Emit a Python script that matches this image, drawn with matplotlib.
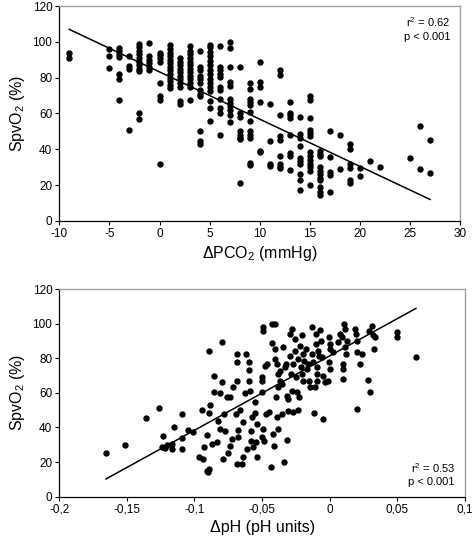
import matplotlib
matplotlib.use("Agg")
import matplotlib.pyplot as plt
import numpy as np

plt.rcParams["font.family"] = ["Liberation Sans", "DejaVu Sans"]
plt.rcParams["mathtext.default"] = "regular"
plt.rcParams["axes.unicode_minus"] = False

# top panel: delta PCO2 (mmHg) columns -> SpvO2 (%)
pco2_cols = {
    -9: [94, 91],
    -5: [96, 92, 85.5],
    -4: [96.5, 95, 93, 91.5, 82, 79.5, 67.5],
    -3: [92, 86.5, 85, 50.5],
    -2: [99, 97, 95, 93, 91, 89, 87, 85, 83.5, 60, 57],
    -1: [99.5, 92, 90, 88, 86, 84.5],
    0: [94, 92.5, 91, 89, 77, 69.5, 67.5, 32],
    1: [98, 96, 94, 92, 90, 88, 86, 84, 82, 80, 78, 76, 74],
    2: [91, 89, 87, 85, 83, 81, 79, 77, 75, 67, 65.5],
    3: [97.5, 95, 93, 91, 89, 87, 85, 83, 81, 79, 77, 75, 67.5],
    4: [95, 86, 84, 81, 79, 77, 73, 71, 69.5, 50, 44.5, 43],
    5: [98.5, 97, 94.5, 92, 89.5, 87, 84.5, 82, 79.5, 77, 75, 72.5, 67, 63, 56],
    6: [97.5, 86, 84, 82, 80.5, 75, 73, 68, 63, 60, 48],
    7: [100, 96.5, 86, 77.5, 75.5, 68, 66, 64, 62, 59, 55],
    8: [86, 60, 58, 50, 48, 46.5, 45.5, 21],
    9: [77, 73.5, 68, 66.5, 64.5, 61, 56, 50, 48, 46, 32.5, 31],
    10: [89, 77.5, 75, 66.5, 39, 38.5],
    11: [65, 44.5, 32, 30.5],
    12: [84, 81.5, 59, 47.5, 45, 36, 32, 30, 29.5],
    13: [66.5, 60.5, 59, 57.5, 48, 38, 36.5, 28.5],
    14: [58, 48.5, 46.5, 42, 35, 33.5, 32, 26, 23, 17],
    15: [69.5, 67.5, 57.5, 51, 49, 47.5, 38.5, 36.5, 34, 32, 30, 28, 20],
    16: [39, 37.5, 36, 30, 28, 26, 24, 23, 19, 16, 14.5],
    17: [50, 35.5, 27.5, 25.5, 16],
    18: [48, 29],
    19: [43, 40, 32, 29.5, 23, 21],
    20: [29.5, 25],
    21: [33.5],
    22: [30],
    25: [35],
    26: [53, 29],
    27: [45, 27],
}
pco2 = [k for k, v in pco2_cols.items() for _ in v]
spvo2_top = [y for v in pco2_cols.values() for y in v]
line_top = (-2.64, 83.2)  # slope, intercept

# bottom panel: delta pH (pH units) -> SpvO2 (%)
dph = [-0.1655, -0.1514, -0.136, -0.1265, -0.1236, -0.124, -0.122, -0.120,
       -0.117, -0.117, -0.115, -0.1095, -0.1095, -0.109, -0.1046, -0.101,
       -0.0967, -0.0948, -0.0935, -0.093, -0.091, -0.0905, -0.090, -0.0895,
       -0.0896, -0.089, -0.0886, -0.087, -0.0856, -0.0856, -0.0836, -0.0824,
       -0.081, -0.080, -0.080, -0.081, -0.0787, -0.078, -0.0775, -0.0763,
       -0.0738, -0.0755, -0.0738, -0.0726, -0.0713, -0.0696, -0.0689, -0.0689,
       -0.0684, -0.0684, -0.0676, -0.0676, -0.066, -0.0652, -0.0644, -0.064,
       -0.063, -0.0622, -0.061, -0.0597, -0.0595, -0.0595, -0.059, -0.0585,
       -0.0585, -0.0578, -0.0565, -0.0553, -0.0553, -0.0546, -0.054, -0.0536,
       -0.0504, -0.050, -0.050, -0.050, -0.0496, -0.0496, -0.049, -0.0484,
       -0.048, -0.0474, -0.0467, -0.0447, -0.0437, -0.043, -0.0425, -0.0418,
       -0.041, -0.0405, -0.0405, -0.0403, -0.040, -0.0393, -0.0388, -0.038,
       -0.038, -0.038, -0.0368, -0.0368, -0.0356, -0.0356, -0.0344, -0.034,
       -0.0332, -0.032, -0.0314, -0.0314, -0.0306, -0.0306, -0.0294, -0.0294,
       -0.029, -0.0282, -0.028, -0.0275, -0.027, -0.026, -0.0257, -0.0252,
       -0.0245, -0.0238, -0.0233, -0.0225, -0.022, -0.0213, -0.0208, -0.0203,
       -0.020, -0.0196, -0.0188, -0.0176, -0.017, -0.0159, -0.015, -0.0146,
       -0.0134, -0.0129, -0.0122, -0.0114, -0.011, -0.0102, -0.0102, -0.0097,
       -0.0097, -0.0097, -0.0085, -0.008, -0.0072, -0.0068, -0.006, -0.0053,
       -0.0048, -0.0035, -0.001, -0.0003, -0.0003, 0.0001, 0.0001, 0.0001,
       0.0026, 0.0063, 0.0075, 0.0088, 0.010, 0.010, 0.010, 0.0105, 0.0112,
       0.0112, 0.0117, 0.0125, 0.0186, 0.0194, 0.0199, 0.0199, 0.0204, 0.0223,
       0.0236, 0.0285, 0.0292, 0.0297, 0.031, 0.0317, 0.0327, 0.0334, 0.0494,
       0.0494, 0.0637]
spvo2_bot = [25.0, 30.1, 45.5, 51, 35.3, 29, 28, 30,
             30.4, 27.5, 40, 47.8, 33.7, 27.5, 38.7, 37.6,
             23.1, 50, 21.6, 28.5, 35.8, 15, 14, 16,
             84.4, 48.4, 53, 30.4, 60.7, 70, 31.4, 44,
             39, 89.2, 66, 60, 21.8, 47.8, 38, 57.8,
             57.8, 25.2, 29.5, 33.3, 63.2, 47.8, 67, 18.9,
             82.3, 77.7, 38.5, 34.3, 50, 18.9, 43.4, 23.1,
             60, 82.5, 27.5, 77.7, 73.2, 67, 61.3, 38.2,
             32.4, 45.9, 28.5, 55, 48.2, 31.4, 23.1, 42,
             34.3, 69, 67, 60.3, 97.9, 96, 39, 32.4,
             75.7, 47.8, 76.7, 48.7, 17, 88.8, 99.8, 36.2,
             29.5, 100, 85.4, 79.6, 57.4, 45.9, 76.7, 71,
             63.2, 39, 72.8, 67, 47.8, 65, 86.7, 20.2,
             74.8, 76.7, 32.8, 58.4, 56.5, 49.7, 94, 81.5,
             71, 97, 61.3, 48.7, 76.7, 91, 84.4, 69,
             60.3, 79.6, 50, 57.4, 87.3, 74.8, 93.4, 71,
             67, 82.5, 78.6, 85.4, 73.8, 76.7, 67, 63.2,
             98.3, 82.5, 77.7, 48.2, 63.2, 94, 88.2, 74.8,
             71, 67, 84.4, 81.5, 96.6, 90.2, 80.5, 44.9,
             70, 66, 67, 77.7, 92, 88.2, 85.4, 73.8,
             83.4, 89.2, 94, 92, 68, 76.7, 73.8, 99.8, 97,
             86.3, 82.5, 90, 97, 94, 50.7, 83.4, 90, 76.7,
             82.5, 67.4, 96, 60.3, 98.8, 93.6, 85.4, 92.5, 95,
             92.5, 80.5]
line_bot = (430.0, 81.4)

ph_ticks = [-0.2, -0.15, -0.1, -0.05, 0, 0.05, 0.1]
ph_labels = ["-0,2", "-0,15", "-0,1", "-0,05", "0", "0,05", "0,1"]


def style(ax):
    for s in ["top", "right"]:
        ax.spines[s].set_color("#a0a0a0")
        ax.spines[s].set_linewidth(1.0)
    for s in ["left", "bottom"]:
        ax.spines[s].set_linewidth(0.9)
    ax.tick_params(direction="out", length=3, width=0.8, labelsize=8.5, pad=2)
    ax.set_ylim(0, 120)
    ax.set_yticks(range(0, 121, 20))
    ax.set_ylabel("SpvO$_2$ (%)", fontsize=11.5, labelpad=4)


fig = plt.figure(figsize=(4.74, 5.48), dpi=100)

ax1 = fig.add_axes([0.125, 0.597, 0.846, 0.392])
ax1.scatter(pco2, spvo2_top, s=21, color="black", linewidths=0)
xl = np.array([min(pco2), max(pco2)])
ax1.plot(xl, line_top[0] * xl + line_top[1], color="black", lw=1.1)
ax1.set_xlim(-10, 30)
ax1.set_xticks(range(-10, 31, 5))
ax1.set_xlabel("ΔPCO$_2$ (mmHg)", fontsize=11.5, labelpad=3)
ax1.text(0.975, 0.955, "r$^2$ = 0.62\np < 0.001", transform=ax1.transAxes,
         ha="right", va="top", fontsize=8, linespacing=1.3)
style(ax1)

ax2 = fig.add_axes([0.125, 0.0936, 0.856, 0.379])
ax2.scatter(dph, spvo2_bot, s=21, color="black", linewidths=0)
xl = np.array([min(dph), max(dph)])
ax2.plot(xl, line_bot[0] * xl + line_bot[1], color="black", lw=1.1)
ax2.set_xlim(-0.2, 0.1)
ax2.set_xticks(ph_ticks)
ax2.set_xticklabels(ph_labels)
ax2.set_xlabel("ΔpH (pH units)", fontsize=11.5, labelpad=3)
ax2.text(0.975, 0.045, "r$^2$ = 0.53\np < 0.001", transform=ax2.transAxes,
         ha="right", va="bottom", fontsize=8, linespacing=1.3)
style(ax2)

fig.savefig("out.png", dpi=100)
